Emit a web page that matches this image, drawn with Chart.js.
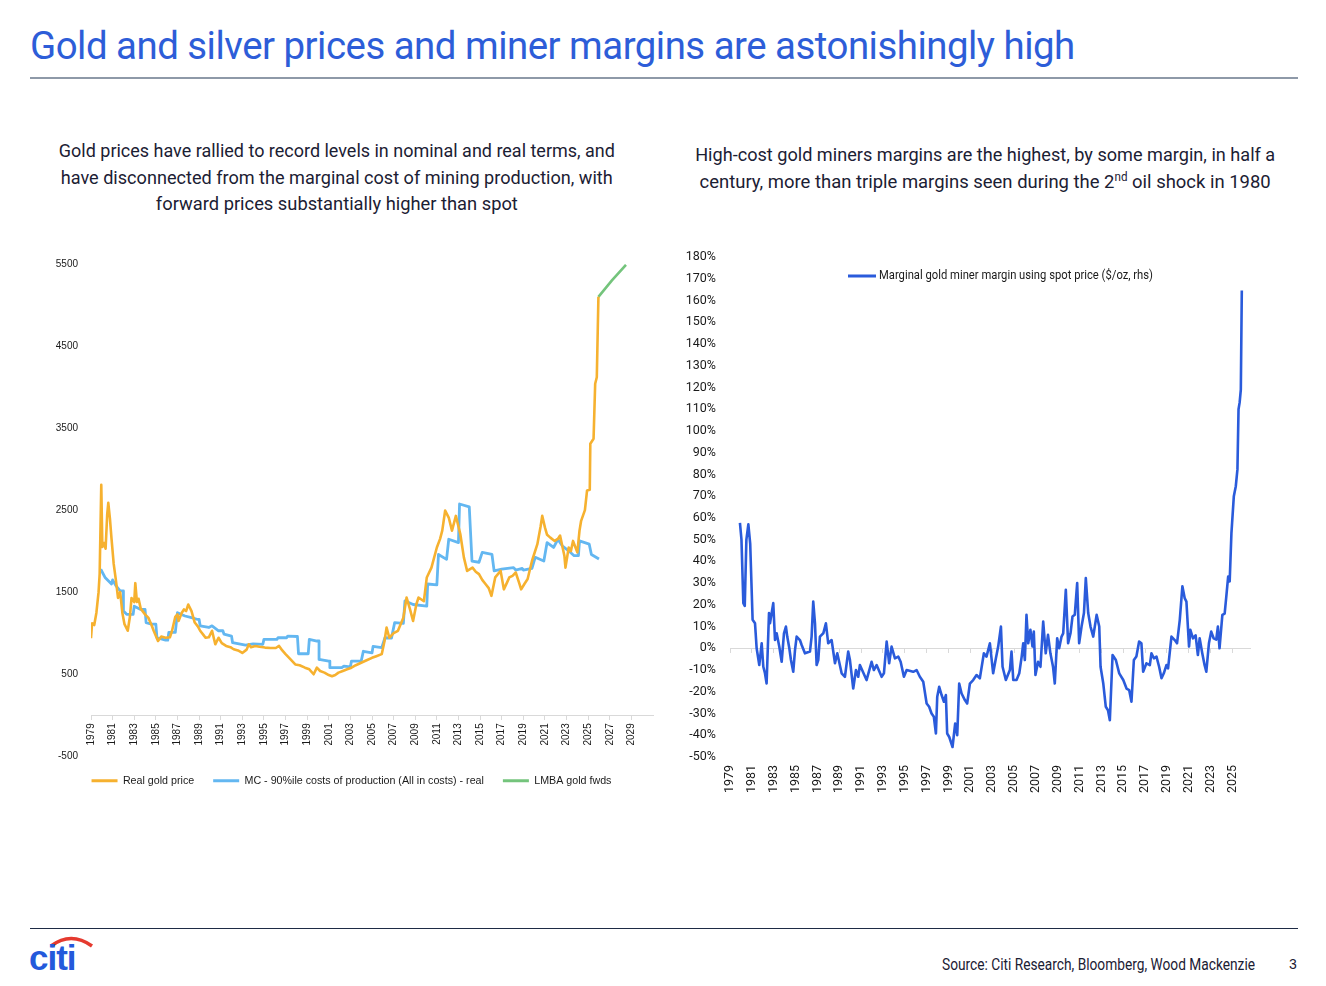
<!DOCTYPE html>
<html>
<head>
<meta charset="utf-8">
<script src="https://cdn.jsdelivr.net/npm/chart.js@4.4.0/dist/chart.umd.min.js"></script>
<style>
  body { margin: 0; background: #fff; }
  #page { position: relative; width: 1326px; height: 986px; overflow: hidden; background: #fff; }
  .title { position: absolute; left: 30px; top: 24px; font-family: Roboto, "Noto Sans", sans-serif; font-size: 38.4px; line-height: 44px; color: #2D5DD8; white-space: nowrap; letter-spacing: -0.5px; }
  .rule { position: absolute; left: 30px; width: 1268px; }
  .sub { position: absolute; font-family: Roboto, "Noto Sans", sans-serif; font-size: 19px; line-height: 26.5px; color: #1B2033; text-align: center; white-space: nowrap; }
  .sub span, .source span { display: inline-block; transform-origin: center center; }
  .box { position: absolute; }
  .source { position: absolute; left: 800px; width: 455px; top: 955px; text-align: right; white-space: nowrap; font-family: Roboto, "Noto Sans", sans-serif; font-size: 16px; line-height: 20px; color: #1B2033; }
  .source span { transform-origin: right center; }
  .pageno { position: absolute; left: 1289px; top: 956px; font-family: "Liberation Sans", Arial, sans-serif; font-size: 14px; color: #1B2033; }
</style>
</head>
<body>
<div id="page">
  <div class="title">Gold and silver prices and miner margins are astonishingly high</div>
  <div class="rule" style="top:77px;height:1.5px;background:#8E99A8"></div>

  <div class="sub" style="left:37px;width:600px;top:138px">
    <div><span data-w="556">Gold prices have rallied to record levels in nominal and real terms, and</span></div>
    <div><span data-w="552">have disconnected from the marginal cost of mining production, with</span></div>
    <div><span data-w="362">forward prices substantially higher than spot</span></div>
  </div>
  <div class="sub" style="left:675px;width:620px;top:142px">
    <div><span data-w="580">High-cost gold miners margins are the highest, by some margin, in half a</span></div>
    <div><span data-w="571">century, more than triple margins seen during the 2<sup style="font-size:12px;line-height:0">nd</sup> oil shock in 1980</span></div>
  </div>

  <div class="box" style="left:30px;top:250px;width:630px;height:552px"><canvas id="leftChart"></canvas></div>
  <div class="box" style="left:675px;top:245px;width:585px;height:557px"><canvas id="rightChart"></canvas></div>

  <div class="rule" style="top:928px;height:1px;background:#1E2B45"></div>
  <svg style="position:absolute;left:26px;top:932px" width="72" height="44">
    <path d="M25 14 Q45 -1 66 14" stroke="#E53A2F" stroke-width="3.5" fill="none"/>
    <text x="3" y="38" font-family="Liberation Sans, Arial, sans-serif" font-size="35" font-weight="bold" fill="#2459DB" letter-spacing="-1">citi</text>
  </svg>
  <div class="source"><span data-w="313">Source: Citi Research, Bloomberg, Wood Mackenzie</span></div>
  <div class="pageno">3</div>
</div>

<script>
// ===============================
// Left chart data (real $/oz)
// ===============================
const goldYears = [
  1979.0, 1979.1, 1979.3, 1979.5, 1979.7, 1979.8, 1979.95, 1980.05, 1980.2, 1980.35,
  1980.5, 1980.6, 1980.75, 1980.9, 1981.1, 1981.3, 1981.5, 1981.7, 1981.9, 1982.1,
  1982.4, 1982.6, 1982.75, 1983.0, 1983.1, 1983.25, 1983.4, 1983.6, 1984.0, 1984.3,
  1984.6, 1984.8, 1985.2, 1985.5, 1985.9, 1986.3, 1986.5, 1986.8, 1987.0, 1987.1,
  1987.4, 1987.6, 1987.8, 1988.0, 1988.3, 1988.6, 1988.9, 1989.1, 1989.4, 1989.6,
  1989.9, 1990.2, 1990.5, 1990.8, 1991.1, 1991.5, 1991.9, 1992.2, 1992.6, 1993.0,
  1993.4, 1993.6, 1993.8, 1994.2, 1994.6, 1995.1, 1995.6, 1996.1, 1996.4, 1996.7,
  1997.0, 1997.4, 1997.9, 1998.3, 1998.8, 1999.2, 1999.6, 1999.9, 2000.2, 2000.6,
  2001.0, 2001.3, 2001.6, 2001.9, 2002.3, 2002.7, 2003.1, 2003.5, 2004.0, 2004.5,
  2005.0, 2005.4, 2005.9, 2006.15, 2006.35, 2006.6, 2007.0, 2007.4, 2007.9, 2008.2,
  2008.5, 2008.8, 2009.1, 2009.3, 2009.8, 2010.07, 2010.5, 2011.0, 2011.3, 2011.5,
  2011.77, 2012.1, 2012.4, 2012.76, 2013.17, 2013.5, 2013.8, 2014.3, 2014.6, 2014.9,
  2015.2, 2015.5, 2015.8, 2016.05, 2016.4, 2016.9, 2017.2, 2017.5, 2017.7, 2018.0,
  2018.3, 2018.6, 2018.8, 2019.1, 2019.4, 2019.8, 2020.3, 2020.6, 2020.75, 2021.0,
  2021.2, 2021.5, 2021.9, 2022.2, 2022.4, 2022.8, 2022.9, 2023.2, 2023.4, 2023.6,
  2024.0, 2024.2, 2024.35, 2024.7, 2024.9, 2025.15, 2025.2, 2025.5, 2025.65, 2025.8,
  2025.95
];
const goldPrice = [
  940, 1120, 1100, 1250, 1500, 1720, 2810, 2050, 2100, 2030,
  2450, 2590, 2400, 2150, 1845, 1650, 1430, 1500, 1250, 1110,
  1030, 1200, 1430, 1380, 1610, 1380, 1420, 1300, 1230, 1190,
  1100, 1030, 905, 960, 945, 950, 1030, 1200, 1230, 1150,
  1250, 1290, 1270, 1350, 1270, 1130, 1080, 1030, 980, 945,
  950, 1030, 865, 945, 880, 845, 830, 805, 790, 760,
  800, 865, 830, 845, 835, 825, 820, 820, 845, 790,
  745, 690, 620, 610, 580, 560, 500, 580, 540, 520,
  490, 475, 490, 520, 540, 560, 580, 610, 640, 670,
  700, 720, 745, 900, 1070, 945, 1000, 1030, 1190, 1435,
  1300, 1150, 1350, 1435, 1390, 1680, 1800, 2045, 2150, 2250,
  2495, 2410, 2250, 2430, 2210, 1925, 1760, 1800, 1750, 1720,
  1650, 1600, 1550, 1455, 1680, 1760, 1535, 1620, 1680, 1700,
  1740, 1620, 1535, 1600, 1660, 1880, 2085, 2300, 2430, 2290,
  2200, 2165, 2125, 2150, 2190, 1945, 1800, 2045, 2000, 2125,
  1985, 2250, 2370, 2500, 2740, 2750, 3310, 3370, 4040, 4120,
  5100
];

// MC - 90%ile all-in costs (step changes)
const mcYears = [
  1979.9, 1980.3, 1980.6, 1980.9, 1981.0, 1981.3, 1981.7, 1982.0, 1982.0, 1982.3,
  1982.9, 1983.0, 1983.6, 1984.0, 1984.1, 1984.6, 1985.0, 1985.1, 1985.9, 1986.1,
  1986.2, 1986.8, 1987.0, 1987.7, 1988.3, 1988.8, 1989.0, 1989.1, 1989.9, 1990.2,
  1990.8, 1991.2, 1991.3, 1992.0, 1992.1, 1993.3, 1994.0, 1994.9, 1995.0, 1996.2,
  1996.3, 1997.1, 1997.2, 1998.1, 1998.2, 1999.1, 1999.2, 1999.9, 2000.1, 2000.1,
  2001.0, 2001.1, 2001.1, 2002.2, 2002.4, 2003.0, 2003.1, 2004.0, 2004.2, 2005.0,
  2005.1, 2005.9, 2006.2, 2006.8, 2007.1, 2007.9, 2008.05, 2008.8, 2010.07, 2010.15,
  2011.0, 2011.15, 2011.9, 2012.1, 2013.0, 2013.1, 2014.0, 2014.25, 2014.9, 2015.2,
  2016.1, 2016.3, 2017.0, 2018.1, 2018.3, 2018.9, 2019.0, 2019.8, 2020.1, 2020.9,
  2021.2, 2021.8, 2022.2, 2022.6, 2023.2, 2023.7, 2024.1, 2024.2, 2025.1, 2025.3,
  2026.0
];
const mcCost = [
  1780, 1680, 1640, 1600, 1650, 1580, 1515, 1515, 1270, 1230,
  1230, 1330, 1290, 1290, 1130, 1110, 1110, 945, 915, 915,
  1010, 1010, 1250, 1210, 1190, 1170, 1170, 1090, 1070, 1090,
  1030, 1030, 990, 965, 885, 855, 870, 865, 925, 925,
  945, 945, 965, 960, 750, 750, 925, 905, 905, 680,
  660, 660, 580, 580, 600, 590, 660, 660, 780, 760,
  840, 825, 945, 940, 1130, 1120, 1395, 1350, 1330, 1600,
  1590, 1960, 1900, 2145, 2105, 2575, 2540, 1880, 1865, 1985,
  1960, 1760, 1780, 1800, 1770, 1790, 1770, 1790, 1925, 1880,
  2105, 2045, 2145, 2065, 2005, 1945, 1945, 2125, 2085, 1960,
  1905
];

// LMBA gold forwards
const fwdYears = [2025.95, 2027.2, 2028.5];
const fwdPrice = [5100, 5300, 5490];

const leftYearTicks = [1979, 1981, 1983, 1985, 1987, 1989, 1991, 1993, 1995, 1997, 1999, 2001, 2003,
  2005, 2007, 2009, 2011, 2013, 2015, 2017, 2019, 2021, 2023, 2025, 2027, 2029];
const leftValueTicks = [-500, 500, 1500, 2500, 3500, 4500, 5500];

// ===============================
// Right chart data (margin %)
// ===============================
const marginYears = [
  1979.91, 1980.05, 1980.22, 1980.35, 1980.5, 1980.68, 1980.85, 1981.07, 1981.29, 1981.44,
  1981.68, 1981.9, 1982.05, 1982.2, 1982.35, 1982.57, 1982.66, 1982.96, 1983.12, 1983.27,
  1983.51, 1983.73, 1983.94, 1984.12, 1984.24, 1984.43, 1984.58, 1984.79, 1984.95, 1985.1,
  1985.4, 1985.56, 1985.86, 1986.32, 1986.47, 1986.62, 1986.78, 1986.93, 1987.08, 1987.23,
  1987.54, 1987.78, 1987.99, 1988.3, 1988.61, 1988.82, 1989.22, 1989.52, 1989.82, 1989.98,
  1990.28, 1990.53, 1990.74, 1990.89, 1991.5, 1991.96, 1992.17, 1992.42, 1992.88, 1993.09,
  1993.34, 1993.57, 1993.79, 1994.1, 1994.4, 1994.62, 1994.92, 1995.17, 1995.77, 1996.08,
  1996.38, 1996.69, 1997.0, 1997.23, 1997.45, 1997.66, 1997.85, 1997.97, 1998.15, 1998.37,
  1998.58, 1998.76, 1998.88, 1999.07, 1999.37, 1999.61, 1999.8, 1999.98, 2000.2, 2000.5,
  2000.71, 2000.96, 2001.26, 2001.57, 2001.87, 2002.24, 2002.48, 2002.79, 2003.09, 2003.34,
  2003.55, 2003.8, 2003.95, 2004.25, 2004.62, 2004.77, 2004.93, 2005.23, 2005.48, 2005.7,
  2005.84, 2005.99, 2006.14, 2006.3, 2006.5, 2006.69, 2006.81, 2006.96, 2007.2, 2007.42,
  2007.67, 2007.9, 2008.11, 2008.33, 2008.57, 2008.73, 2008.95, 2009.13, 2009.35, 2009.5,
  2009.74, 2009.95, 2010.17, 2010.35, 2010.56, 2010.78, 2010.96, 2011.18, 2011.4, 2011.57,
  2011.79, 2012.0, 2012.25, 2012.56, 2012.8, 2012.92, 2013.17, 2013.4, 2013.6, 2013.77,
  2014.02, 2014.32, 2014.63, 2015.0, 2015.3, 2015.54, 2015.75, 2015.97, 2016.2, 2016.45,
  2016.66, 2016.82, 2017.12, 2017.43, 2017.58, 2017.8, 2018.04, 2018.28, 2018.5, 2018.71,
  2018.95, 2019.1, 2019.41, 2019.71, 2019.92, 2020.17, 2020.41, 2020.62, 2020.78, 2021.02,
  2021.14, 2021.38, 2021.62, 2021.83, 2021.99, 2022.23, 2022.44, 2022.6, 2022.84, 2023.05,
  2023.27, 2023.51, 2023.66, 2023.81, 2024.07, 2024.28, 2024.43, 2024.6, 2024.74, 2024.9,
  2025.12, 2025.3, 2025.45, 2025.55, 2025.65, 2025.76, 2025.85
];
const marginPct = [
  57.7, 50, 20.8, 19.5, 50, 57, 48, 13.1, 11.5, 0,
  -7.7, 2.3, -8.5, -11.5, -16.2, 16.2, 11.5, 20.8, 3.8, 6.9,
  0.8, -6.2, 6.9, 10, 5.4, 0, -5.4, -10.8, -0.8, 5.4,
  3.8, 1.5, -2.3, -1.5, 5.4, 21.5, 11.5, -7.7, -5.4, 5.4,
  6.9, 11.5, 2.3, 3.8, -6.9, -2.3, -11.5, -13.1, -1.5, -5.4,
  -18.5, -10, -13.1, -7.7, -14.6, -6.2, -10, -7.7, -13.1, -11.5,
  3.1, -6.9, 0.8, -4.6, -3.8, -6.2, -13.1, -10, -10.8, -10,
  -13.1, -15.4, -25.4, -26.9, -30, -31.5, -39.2, -22.3, -17.7, -21.5,
  -24.6, -21.5, -39.2, -40.8, -45.4, -34.6, -40, -16.2, -20.8, -23.8,
  -25.4, -16.2, -14.6, -12.3, -13.8, -2.3, -3.8, 2.3, -11.5, -4.6,
  0.8, 10, -8.5, -14.6, -10, -1.5, -14.6, -14.6, -11.5, -3.8,
  2.3, -5.4, 15.4, 2.3, 8.5, 0.8, 7.7, -12.3, -6.2, -8.5,
  12.3, -2.3, 6.2, -2.3, -8.5, -16.2, 4.6, 0, 5.4, 6.9,
  26.9, 2.3, 6.9, 14.6, 15.4, 30, 2.3, 10, 16.2, 32.3,
  16.2, 10, 5.4, 15.4, 10, -8.5, -16.2, -26.9, -28.5, -33.1,
  -3.1, -5.4, -11.5, -14.6, -18.5, -19.2, -24.6, -5.4, -3.8, 3.1,
  2.3, -10.8, -6.9, -7.7, -2.3, -4.6, -3.8, -8.5, -13.8, -11.5,
  -7.7, -9.2, 5.4, 3.8, 2.3, 13, 28.5, 23.1, 21.5, 0.8,
  8.5, 4.6, 6, -3.1, 4.6, -2.3, -7.7, -10.8, 2.3, 7.7,
  4.6, 4, 10, 0, 15.4, 16, 23.8, 33, 30.8, 53,
  70, 74.6, 82.3, 110, 113, 119, 164.6
];

const rightYearTicks = [1979, 1981, 1983, 1985, 1987, 1989, 1991, 1993, 1995, 1997, 1999, 2001,
  2003, 2005, 2007, 2009, 2011, 2013, 2015, 2017, 2019, 2021, 2023, 2025];
const rightPctTicks = [-50, -40, -30, -20, -10, 0, 10, 20, 30, 40, 50, 60, 70, 80, 90, 100,
  110, 120, 130, 140, 150, 160, 170, 180];

// ===============================
// Text fitting (condensed look of the slide font)
// ===============================
document.querySelectorAll("[data-w]").forEach((el) => {
  const w = el.getBoundingClientRect().width;
  el.style.transform = "scaleX(" + Number(el.dataset.w) / w + ")";
});

// ===============================
// Helpers
// ===============================
const toPoints = (xs, ys) => xs.map((x, i) => ({ x: x, y: ys[i] }));
const fixTicks = (list) => (scale) => { scale.ticks = list.map((v) => ({ value: v })); };
const plain = '"Liberation Sans", Arial, sans-serif';
const rob = 'Roboto, "Noto Sans", sans-serif';

function flatLegendLabels(chart) {
  return Chart.defaults.plugins.legend.labels.generateLabels(chart).map((l) => ({ ...l, lineWidth: 0 }));
}

// legend drawn inside the plot, near the top (right chart)
const insideLegend = {
  id: "insideLegend",
  afterDatasetsDraw(chart) {
    const { ctx, chartArea } = chart;
    const ds = chart.data.datasets[0];
    const y = chartArea.top + 19;
    const x0 = chartArea.left + 118;
    ctx.save();
    ctx.fillStyle = ds.borderColor;
    ctx.fillRect(x0, y - 1.5, 28, 3);
    ctx.font = "13px " + rob;
    const w = ctx.measureText(ds.label).width;
    ctx.translate(x0 + 31, y);
    ctx.scale(274 / w, 1);
    ctx.fillStyle = "#1a1a1a";
    ctx.textBaseline = "middle";
    ctx.fillText(ds.label, 0, 0);
    ctx.restore();
  },
};

Chart.defaults.color = "#1a1a1a";
Chart.defaults.animation = false;

const ORANGE = "#F6B12F";
const SKY = "#63B7F1";
const GREEN = "#74C47C";
const ROYAL = "#2A5BDB";

// y axes: gap between labels and plot made with invisible tick marks
const hiddenTicks = (len) => ({ display: true, drawOnChartArea: false, drawTicks: true, tickLength: len, color: "rgba(0,0,0,0)" });

// ===============================
// Left chart
// ===============================
new Chart(document.getElementById("leftChart"), {
  type: "line",
  data: {
    datasets: [
      { label: "Real gold price", data: toPoints(goldYears, goldPrice), borderColor: ORANGE, backgroundColor: ORANGE, borderWidth: 2.6 },
      { label: "MC - 90%ile costs of production (All in costs) - real", data: toPoints(mcYears, mcCost), borderColor: SKY, backgroundColor: SKY, borderWidth: 2.8 },
      { label: "LMBA gold fwds", data: toPoints(fwdYears, fwdPrice), borderColor: GREEN, backgroundColor: GREEN, borderWidth: 2.6 },
    ],
  },
  options: {
    responsive: true,
    maintainAspectRatio: false,
    layout: { padding: { top: 14, right: 7, bottom: 6, left: 20 } },
    elements: { point: { radius: 0 }, line: { tension: 0, borderJoinStyle: "round" } },
    scales: {
      x: {
        type: "linear",
        position: { y: 0 },
        min: 1979,
        max: 2031,
        afterBuildTicks: fixTicks(leftYearTicks),
        ticks: { autoSkip: false, minRotation: 90, maxRotation: 90, padding: 4, font: { family: plain, size: 10 }, callback: (v) => String(v) },
        grid: { drawOnChartArea: false, drawTicks: true, tickLength: 4, color: "#d9d9d9" },
        border: { display: true, color: "#d9d9d9" },
      },
      y: {
        min: -500,
        max: 5500,
        afterBuildTicks: fixTicks(leftValueTicks),
        afterFit: (s) => { s.width = 41; },
        ticks: { padding: 0, font: { family: plain, size: 10 }, callback: (v) => String(v) },
        grid: hiddenTicks(13),
        border: { display: false },
      },
    },
    plugins: {
      tooltip: { enabled: false },
      legend: {
        position: "bottom",
        labels: { boxWidth: 26, boxHeight: 3, padding: 19, font: { family: plain, size: 10.7 }, generateLabels: flatLegendLabels },
      },
    },
  },
});

// ===============================
// Right chart
// ===============================
new Chart(document.getElementById("rightChart"), {
  type: "line",
  data: {
    datasets: [
      { label: "Marginal gold miner margin using spot price ($/oz, rhs)", data: toPoints(marginYears, marginPct), borderColor: ROYAL, backgroundColor: ROYAL, borderWidth: 2.6 },
    ],
  },
  options: {
    responsive: true,
    maintainAspectRatio: false,
    layout: { padding: { top: 12, right: 10, bottom: 0, left: 0 } },
    elements: { point: { radius: 0 }, line: { tension: 0, borderJoinStyle: "round" } },
    scales: {
      x: {
        type: "linear",
        position: "bottom",
        min: 1979,
        max: 2026.6,
        afterBuildTicks: fixTicks(rightYearTicks),
        afterFit: (s) => { s.height = 45; },
        ticks: { autoSkip: false, minRotation: 90, maxRotation: 90, padding: 8, font: { family: rob, size: 12.5 }, callback: (v) => String(v) },
        grid: { display: false, drawTicks: false },
        border: { display: false },
      },
      zero: {
        type: "linear",
        axis: "x",
        position: { y: 0 },
        min: 1979,
        max: 2026.6,
        afterBuildTicks: fixTicks(rightYearTicks),
        ticks: { display: false },
        grid: { drawOnChartArea: false, drawTicks: true, tickLength: 4, color: "#d9d9d9" },
        border: { display: true, color: "#d9d9d9" },
      },
      y: {
        min: -50,
        max: 180,
        afterBuildTicks: fixTicks(rightPctTicks),
        afterFit: (s) => { s.width = 55; },
        ticks: { padding: 0, font: { family: rob, size: 12.5 }, callback: (v) => v + "%" },
        grid: hiddenTicks(14),
        border: { display: false },
      },
    },
    plugins: {
      tooltip: { enabled: false },
      legend: { display: false },
    },
  },
  plugins: [insideLegend],
});
</script>
</body>
</html>
